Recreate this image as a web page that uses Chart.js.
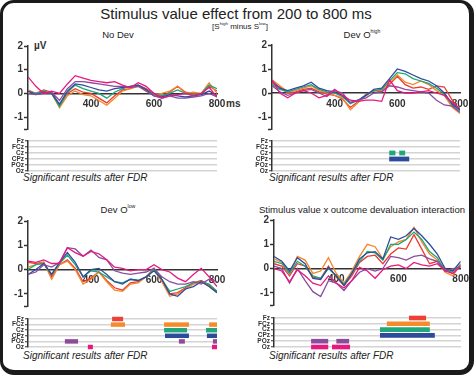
<!DOCTYPE html>
<html>
<head>
<meta charset="utf-8">
<script src="https://cdn.jsdelivr.net/npm/chart.js@4.4.0/dist/chart.umd.min.js"></script>
<style>
html, body { margin: 0; padding: 0; background: #fff; }
#wrap { position: relative; width: 474px; height: 375px; overflow: hidden; font-family: "Liberation Sans", Arial, sans-serif; color: #222; }
#frame { position: absolute; left: 0; top: 0; width: 466px; height: 367px; border: solid #1b1b1b; border-width: 3px 5px 5px 3px; border-radius: 14px; }
canvas { position: absolute; left: 0; top: 0; }
.t { position: absolute; white-space: nowrap; transform: translate(-50%, -50%); line-height: 1; }
.l { position: absolute; white-space: nowrap; transform: translateY(-50%); line-height: 1; }
sup { font-size: 55%; vertical-align: top; position: relative; top: -1px; }
</style>
</head>
<body>
<div id="wrap">
  <div id="frame"></div>
  <div class="t" style="left:236px;top:13px;font-size:15px">Stimulus value effect from 200 to 800 ms</div>
  <div class="t" style="left:240px;top:27px;font-size:8px">[S<sup>high</sup> minus S<sup>low</sup>]</div>
  <div class="t" style="left:118px;top:35px;font-size:9.5px">No Dev</div>
  <div class="t" style="left:362px;top:35px;font-size:9.5px">Dev O<sup>high</sup></div>
  <div class="t" style="left:118px;top:210px;font-size:9.5px">Dev O<sup>low</sup></div>
  <div class="t" style="left:362px;top:210px;font-size:9.5px">Stimulus value x outcome devaluation interaction</div>
  <div class="l" style="left:34px;top:46px;font-size:10px;font-weight:bold;color:#333">µV</div>
  <div class="l" style="left:226px;top:104px;font-size:10px;font-weight:bold;color:#333">ms</div>
  <div class="l" style="left:23px;top:178px;font-size:10px;font-style:italic">Significant results after FDR</div>
  <div class="l" style="left:269px;top:178px;font-size:10px;font-style:italic">Significant results after FDR</div>
  <div class="l" style="left:23px;top:356px;font-size:10px;font-style:italic">Significant results after FDR</div>
  <div class="l" style="left:269px;top:356px;font-size:10px;font-style:italic">Significant results after FDR</div>
</div>
<script>
const times = [200, 225, 250, 275, 300, 325, 350, 375, 400, 425, 450, 475, 500, 525, 550, 575, 600, 625, 650, 675, 700, 725, 750, 775, 800]
const electrodes = ['Fz', 'FCz', 'Cz', 'CPz', 'POz', 'Oz']
const lineColors = ['#eb3b34', '#f5862a', '#1ea777', '#2f4c9c', '#8b4b9e', '#e6197e']
const barColors = ['#ee4036', '#f68b2c', '#22a77a', '#2c4b9b', '#8e4a9b', '#e6197f']

// No Dev
const noDevFz  = [0.1, 0.0, 0.15, 0.05, -0.5, 0.0, 0.2, 0.05, 0.0, -0.2, -0.4, -0.1, 0.15, 0.2, 0.35, 0.2, 0.0, -0.1, 0.05, 0.3, 0.05, 0.0, -0.05, 0.3, 0.1]
const noDevFCz = [0.15, 0.0, 0.1, 0.0, -0.6, -0.1, 0.1, -0.05, -0.1, -0.3, -0.5, -0.2, 0.1, 0.2, 0.3, 0.1, -0.05, 0.0, 0.1, 0.3, 0.0, 0.05, 0.0, 0.45, 0.0]
const noDevCz  = [0.1, 0.0, 0.1, 0.0, -0.55, 0.05, 0.35, 0.2, 0.1, 0.0, -0.2, 0.05, 0.2, 0.3, 0.35, 0.15, -0.05, -0.1, 0.0, 0.15, 0.0, -0.05, 0.0, 0.35, 0.2]
const noDevCPz = [0.1, -0.05, 0.05, 0.0, -0.45, 0.1, 0.4, 0.35, 0.25, 0.15, 0.1, 0.2, 0.25, 0.3, 0.35, 0.15, -0.1, -0.15, -0.05, -0.1, -0.15, -0.1, -0.05, 0.1, -0.1]
const noDevPOz = [0.0, -0.05, 0.0, 0.05, -0.3, 0.2, 0.5, 0.5, 0.45, 0.4, 0.35, 0.3, 0.3, 0.25, 0.3, 0.1, -0.1, -0.2, -0.1, -0.2, -0.2, -0.15, -0.1, 0.0, -0.15]
const noDevOz  = [0.7, 0.3, 0.0, 0.1, 0.0, 0.4, 0.75, 0.65, 0.55, 0.5, 0.45, 0.5, 0.35, 0.25, 0.45, 0.3, 0.0, -0.2, -0.1, -0.05, 0.0, -0.1, 0.0, 0.25, -0.15]

// Dev O high
const devHighFz  = [0.4, 0.25, 0.0, 0.05, 0.15, 0.2, 0.05, -0.05, -0.1, -0.25, -0.6, -0.35, -0.05, 0.1, 0.05, 0.35, 0.7, 0.35, 0.2, 0.25, 0.15, 0.3, 0.25, -0.3, -0.7]
const devHighFCz = [0.55, 0.3, 0.05, 0.1, 0.2, 0.3, 0.1, 0.0, -0.1, -0.2, -0.7, -0.4, -0.1, 0.1, 0.1, 0.4, 0.75, 0.45, 0.35, 0.5, 0.35, 0.1, -0.1, -0.6, -0.85]
const devHighCz  = [0.35, 0.15, 0.05, 0.15, 0.25, 0.35, 0.15, 0.05, 0.0, -0.15, -0.45, -0.3, -0.1, 0.1, 0.15, 0.5, 0.85, 0.8, 0.6, 0.5, 0.4, 0.2, -0.05, -0.5, -0.75]
const devHighCPz = [0.5, 0.2, 0.1, 0.2, 0.3, 0.45, 0.2, 0.1, 0.05, -0.1, -0.4, -0.3, -0.1, 0.15, 0.2, 0.6, 1.0, 0.9, 0.75, 0.6, 0.5, 0.3, 0.0, -0.45, -0.7]
const devHighPOz = [0.3, 0.05, -0.1, 0.0, 0.1, 0.15, 0.0, -0.15, 0.1, 0.0, -0.4, -0.3, -0.2, 0.0, 0.05, 0.3, 0.25, 0.15, 0.1, 0.05, 0.0, -0.3, -0.5, -0.55, -0.8]
const devHighOz  = [0.55, 0.0, -0.2, 0.0, 0.1, 0.0, -0.2, -0.1, 0.15, -0.1, -0.3, -0.35, -0.3, -0.3, -0.35, 0.55, 0.1, 0.0, 0.0, 0.05, 0.1, 0.0, -0.1, -0.4, -0.65]

// Dev O low
const devLowFz  = [0.3, 0.25, 0.3, -0.3, 0.2, 0.4, 0.05, -0.5, -0.35, -0.1, -0.45, -0.75, -0.85, -0.55, -0.5, -0.3, 0.05, -0.45, -1.0, -0.95, -0.75, -0.55, -0.45, -0.65, -0.9]
const devLowFCz = [0.1, 0.2, 0.3, -0.4, 0.2, 0.35, 0.0, -0.6, -0.4, -0.1, -0.5, -0.85, -0.9, -0.6, -0.55, -0.3, 0.0, -0.5, -1.1, -1.0, -0.8, -0.6, -0.5, -0.7, -0.95]
const devLowCz  = [0.0, 0.2, 0.25, -0.2, 0.25, 0.6, 0.2, -0.3, -0.05, -0.1, -0.3, -0.5, -0.55, -0.4, -0.45, -0.3, 0.0, -0.4, -0.9, -0.8, -0.7, -0.55, -0.5, -0.6, -0.9]
const devLowCPz = [-0.2, 0.0, 0.25, -0.2, 0.3, 0.7, 0.3, -0.3, 0.0, 0.05, -0.2, -0.5, -0.6, -0.4, -0.45, -0.3, -0.05, -0.4, -1.0, -1.1, -0.8, -0.7, -0.5, -0.7, -0.95]
const devLowPOz = [-0.2, -0.1, 0.2, 0.1, 0.3, 0.9, 0.85, 0.55, 0.8, 0.5, 0.4, -0.05, -0.15, -0.2, -0.15, -0.1, 0.05, -0.3, -0.5, -0.6, -0.6, -0.5, -0.6, -0.4, -0.5]
const devLowOz  = [0.35, 0.3, 0.4, 0.25, 0.25, 0.9, 0.7, 0.55, 0.75, 0.65, 0.4, 0.1, 0.05, -0.05, 0.0, 0.0, 0.2, 0.0, -0.1, -0.35, -0.5, -0.2, 0.05, -0.3, -0.7]

// interaction
const interFz  = [0.2, 0.1, -0.3, 0.2, 0.1, -0.35, -0.4, 0.1, -0.35, -0.7, -0.3, 0.25, 0.5, 0.55, 0.2, 0.6, 0.85, 0.8, 1.4, 0.8, 0.2, 0.3, 0.0, -0.2, 0.15]
const interFCz = [0.4, 0.25, -0.2, 0.5, 0.35, -0.2, -0.1, 0.45, -0.2, -0.6, -0.1, 0.5, 1.0, 0.9, 0.4, 0.9, 1.1, 1.2, 1.7, 1.1, 0.6, 0.35, -0.15, -0.3, 0.2]
const interCz  = [0.3, 0.2, -0.2, 0.3, 0.1, -0.3, -0.4, 0.0, -0.3, -0.65, -0.2, 0.3, 0.7, 0.65, 0.35, 1.0, 1.0, 1.2, 1.5, 1.2, 0.7, 0.45, -0.1, -0.1, 0.15]
const interCPz = [0.5, 0.3, -0.1, 0.45, 0.2, -0.4, -0.45, 0.05, -0.3, -0.7, -0.2, 0.4, 0.65, 0.7, 0.4, 1.3, 1.2, 1.35, 1.65, 1.35, 1.0, 0.6, 0.0, -0.1, 0.3]
const interPOz = [0.1, 0.0, -0.6, 0.0, -0.5, -0.95, -1.15, -0.5, -0.6, -0.9, -0.5, -0.15, 0.0, -0.1, 0.0, 0.5, 0.45, 0.35, 0.5, 0.55, 0.4, 0.3, -0.1, 0.0, 0.05]
const interOz  = [0.0, -0.1, -0.55, -0.05, -0.3, -0.6, -0.7, -0.3, -0.6, -0.8, -0.5, 0.05, -0.1, -0.4, -0.05, 0.1, 0.15, 0.0, 0.25, 0.15, 0.1, 0.2, -0.1, -0.2, 0.1]

// significant windows (ms) per electrode
const sigNoDev = [[], [], [], [], [], []]
const sigDevHighCz = [[574, 594], [606, 625]]
const sigDevHighCPz = [[574, 638]]
const sigDevLowFz = [[467, 502]]
const sigDevLowFCz = [[463, 508], [632, 711], [775, 800]]
const sigDevLowCz = [[632, 705], [765, 800]]
const sigDevLowCPz = [[635, 711], [768, 800]]
const sigDevLowPOz = [[317, 359], [679, 698], [787, 800]]
const sigDevLowOz = [[390, 406], [784, 800]]
const sigInterFz = [[633, 688]]
const sigInterFCz = [[562, 700]]
const sigInterCz = [[540, 700]]
const sigInterCPz = [[540, 716]]
const sigInterPOz = [[319, 374], [400, 441]]
const sigInterOz = [[319, 374], [386, 444]]

const wrap = document.getElementById('wrap')

function addCanvas() {
  const c = document.createElement('canvas')
  c.width = 474
  c.height = 375
  wrap.appendChild(c)
  return c
}

const tickFont = { family: '"Liberation Sans", Arial, sans-serif', size: 10, weight: 'bold' }

function waveChart(box, series) {
  const order = [5, 4, 3, 2, 1, 0]
  new Chart(addCanvas(), {
    type: 'line',
    data: {
      datasets: order.map(i => ({
        label: electrodes[i],
        data: times.map((t, k) => ({ x: t, y: series[i][k] })),
        borderColor: lineColors[i],
        borderWidth: 1.3,
        pointRadius: 0,
        tension: 0
      }))
    },
    options: {
      responsive: false,
      animation: false,
      events: [],
      layout: { autoPadding: false, padding: { left: box.l - 26, right: 474 - box.r, top: box.t, bottom: 375 - box.b } },
      plugins: { legend: { display: false }, tooltip: { enabled: false } },
      scales: {
        x: {
          type: 'linear', min: 200, max: 800, position: { y: 0 },
          afterBuildTicks: s => { s.ticks = [400, 600, 800].map(v => ({ value: v })) },
          grid: { drawOnChartArea: false, drawTicks: false },
          border: { color: '#333', width: 1.5 },
          ticks: { color: '#333', font: tickFont, padding: 5, maxRotation: 0, autoSkip: false }
        },
        y: {
          min: -1.5, max: 2,
          afterBuildTicks: s => { s.ticks = [-1.5, -1, 0, 1, 2].map(v => ({ value: v })) },
          afterFit: s => { s.width = 26 },
          grid: { drawOnChartArea: false, tickLength: 4, tickColor: '#333', tickWidth: 1.5 },
          border: { color: '#333', width: 1.5 },
          ticks: { color: '#333', font: tickFont, padding: 1, callback: v => v === -1.5 ? '' : v }
        }
      }
    }
  })
}

function sigChart(box, sig) {
  const datasets = []
  electrodes.forEach((e, i) => {
    sig[i].forEach(iv => {
      const d = electrodes.map(() => null)
      d[i] = iv
      datasets.push({ data: d, backgroundColor: barColors[i], barPercentage: 0.8, categoryPercentage: 1, grouped: false, clip: false })
    })
  })
  new Chart(addCanvas(), {
    type: 'bar',
    data: { labels: electrodes, datasets: datasets },
    options: {
      indexAxis: 'y',
      responsive: false,
      animation: false,
      events: [],
      layout: { autoPadding: false, padding: { left: box.l - 24, right: 474 - box.r, top: box.t, bottom: 375 - box.b } },
      plugins: { legend: { display: false }, tooltip: { enabled: false } },
      scales: {
        x: { type: 'linear', display: false, min: 200, max: 800 },
        y: {
          offset: false,
          afterFit: s => { s.width = 24 },
          grid: { offset: false, color: '#d4d4d4', lineWidth: 1.5, tickColor: '#333', tickLength: 3, tickWidth: 1.2 },
          border: { color: '#333', width: 1.5 },
          ticks: { color: '#333', font: { family: '"Liberation Sans", Arial, sans-serif', size: 6.5, weight: 'bold' }, padding: 1, autoSkip: false }
        }
      }
    }
  })
}

waveChart({ l: 28, r: 217, t: 46, b: 129 }, [noDevFz, noDevFCz, noDevCz, noDevCPz, noDevPOz, noDevOz])
waveChart({ l: 272, r: 460, t: 45, b: 129 }, [devHighFz, devHighFCz, devHighCz, devHighCPz, devHighPOz, devHighOz])
waveChart({ l: 28, r: 217, t: 221, b: 306 }, [devLowFz, devLowFCz, devLowCz, devLowCPz, devLowPOz, devLowOz])
waveChart({ l: 274, r: 461, t: 220, b: 305 }, [interFz, interFCz, interCz, interCPz, interPOz, interOz])

sigChart({ l: 28, r: 217, t: 141, b: 171 }, sigNoDev)
sigChart({ l: 272, r: 460, t: 141, b: 171 }, [[], [], sigDevHighCz, sigDevHighCPz, [], []])
sigChart({ l: 28, r: 217, t: 319, b: 347 }, [sigDevLowFz, sigDevLowFCz, sigDevLowCz, sigDevLowCPz, sigDevLowPOz, sigDevLowOz])
sigChart({ l: 274, r: 461, t: 318, b: 347 }, [sigInterFz, sigInterFCz, sigInterCz, sigInterCPz, sigInterPOz, sigInterOz])
</script>
</body>
</html>
